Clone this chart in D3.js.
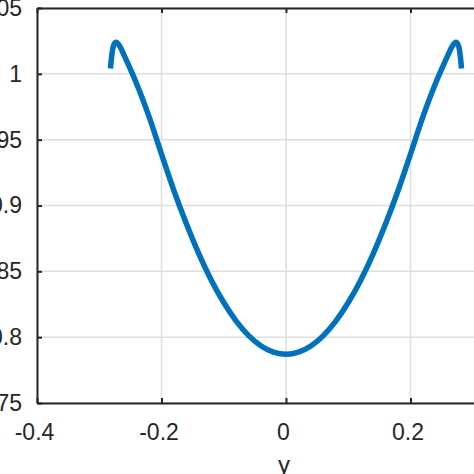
<!DOCTYPE html>
<html>
<head>
<meta charset="utf-8">
<script src="https://cdn.jsdelivr.net/npm/d3@7"></script>
<style>
  html, body { margin: 0; padding: 0; background: #fff; }
  svg { display: block; font-family: "Liberation Sans", Arial, sans-serif; }
</style>
</head>
<body>
<script>
// curve (symmetric around 0), right half
var halfX = [0, 0.02, 0.04, 0.06, 0.08, 0.10, 0.12, 0.14, 0.16, 0.18, 0.20, 0.22, 0.24, 0.25, 0.26, 0.267, 0.273, 0.277, 0.280, 0.282];
var halfY = [0.787, 0.7886, 0.7933, 0.8012, 0.8122, 0.8263, 0.8433, 0.8633, 0.8861, 0.9112, 0.9390, 0.9675, 0.9925, 1.0035, 1.0140, 1.0210, 1.0240, 1.0215, 1.0135, 1.0040];

var xTicks = [-0.4, -0.2, 0, 0.2, 0.4];
var xTickLabels = ["-0.4", "-0.2", "0", "0.2", "0.4"];
var yTicks = [0.75, 0.8, 0.85, 0.9, 0.95, 1, 1.05];
var yTickLabels = ["0.75", "0.8", "0.85", "0.9", "0.95", "1", "1.05"];
var xLabel = "y";

var width = 474, height = 474;
var plotLeft = 37, plotRight = 535, plotTop = 8, plotBottom = 403;

var svg = d3.select("body").append("svg")
    .attr("width", width)
    .attr("height", height);

var x = d3.scaleLinear().domain([-0.4, 0.4]).range([plotLeft, plotRight]);
var y = d3.scaleLinear().domain([0.75, 1.05]).range([plotBottom, plotTop]);

// build full curve from the half
var pts = [];
for (var i = halfX.length - 1; i > 0; i--) pts.push([-halfX[i], halfY[i]]);
for (var j = 0; j < halfX.length; j++) pts.push([halfX[j], halfY[j]]);

// grid
var grid = svg.append("g").attr("class", "grid");
grid.selectAll(".gx").data(xTicks).enter().append("line")
    .attr("x1", function(d){ return x(d); })
    .attr("x2", function(d){ return x(d); })
    .attr("y1", plotTop).attr("y2", plotBottom)
    .attr("stroke", "#dedede").attr("stroke-width", 1.5);
grid.selectAll(".gy").data(yTicks).enter().append("line")
    .attr("y1", function(d){ return y(d); })
    .attr("y2", function(d){ return y(d); })
    .attr("x1", plotLeft).attr("x2", plotRight)
    .attr("stroke", "#dedede").attr("stroke-width", 1.5);

// curve
var line = d3.line()
    .x(function(d){ return x(d[0]); })
    .y(function(d){ return y(d[1]); })
    .curve(d3.curveMonotoneX);

svg.append("path")
    .datum(pts)
    .attr("d", line)
    .attr("fill", "none")
    .attr("stroke", "#0072BD")
    .attr("stroke-width", 5.5)
    .attr("stroke-linejoin", "round");

// axes
var xAxis = d3.axisBottom(x).tickValues(xTicks)
    .tickFormat(function(d, i){ return xTickLabels[i]; })
    .tickSizeInner(-5).tickSizeOuter(0).tickPadding(21);
var yAxis = d3.axisLeft(y).tickValues(yTicks)
    .tickFormat(function(d, i){ return yTickLabels[i]; })
    .tickSizeInner(-5).tickSizeOuter(0).tickPadding(15);
var topAxis = d3.axisTop(x).tickValues(xTicks).tickFormat("")
    .tickSizeInner(-5).tickSizeOuter(0);
var rightAxis = d3.axisRight(y).tickValues(yTicks).tickFormat("")
    .tickSizeInner(-5).tickSizeOuter(0);

function style(g) {
  g.selectAll("path, line").attr("stroke", "#262626").attr("stroke-width", 2);
  g.selectAll("text").attr("fill", "#262626").style("font-size", "23px")
    .style("font-family", "'Liberation Sans', Arial, sans-serif");
}

svg.append("g").attr("transform", "translate(0," + plotBottom + ")").call(xAxis).call(style)
  .selectAll("text").attr("dx", -3);
svg.append("g").attr("transform", "translate(" + plotLeft + ",0)").call(yAxis).call(style);
svg.append("g").attr("transform", "translate(0," + plotTop + ")").call(topAxis).call(style);
svg.append("g").attr("transform", "translate(" + plotRight + ",0)").call(rightAxis).call(style);

svg.append("text")
    .attr("x", x(0) - 2)
    .attr("y", 473)
    .attr("text-anchor", "middle")
    .attr("fill", "#262626")
    .style("font-size", "24px")
    .text(xLabel);
</script>
</body>
</html>
